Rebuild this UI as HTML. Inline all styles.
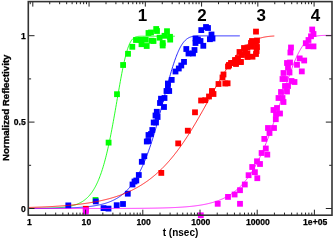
<!DOCTYPE html>
<html><head><meta charset="utf-8"><style>
html,body{margin:0;padding:0;background:#fff;}
body{width:335px;height:241px;overflow:hidden;}
svg{display:block;}
</style></head><body>
<svg width="335" height="241" viewBox="0 0 335 241">
<g fill="#00ff00"><rect x="92.60" y="197.10" width="5.80" height="5.80"/><rect x="105.70" y="139.70" width="5.80" height="5.80"/><rect x="114.10" y="91.30" width="5.80" height="5.80"/><rect x="120.20" y="62.10" width="5.80" height="5.80"/><rect x="125.10" y="50.90" width="5.80" height="5.80"/><rect x="129.40" y="43.90" width="5.80" height="5.80"/><rect x="133.10" y="37.10" width="5.80" height="5.80"/><rect x="137.90" y="36.90" width="5.80" height="5.80"/><rect x="138.60" y="41.30" width="5.80" height="5.80"/><rect x="143.80" y="43.10" width="5.80" height="5.80"/><rect x="142.80" y="36.80" width="5.80" height="5.80"/><rect x="145.60" y="30.10" width="5.80" height="5.80"/><rect x="148.10" y="29.60" width="5.80" height="5.80"/><rect x="148.60" y="37.80" width="5.80" height="5.80"/><rect x="150.60" y="38.10" width="5.80" height="5.80"/><rect x="153.30" y="26.10" width="5.80" height="5.80"/><rect x="154.10" y="28.10" width="5.80" height="5.80"/><rect x="156.70" y="34.80" width="5.80" height="5.80"/><rect x="159.80" y="40.10" width="5.80" height="5.80"/><rect x="159.80" y="42.60" width="5.80" height="5.80"/><rect x="161.60" y="32.90" width="5.80" height="5.80"/><rect x="164.10" y="28.30" width="5.80" height="5.80"/><rect x="167.10" y="33.90" width="5.80" height="5.80"/><rect x="167.30" y="36.70" width="5.80" height="5.80"/></g>
<path d="M28.30,208.45 L28.80,208.45 L29.30,208.45 L29.80,208.44 L30.30,208.44 L30.80,208.44 L31.30,208.43 L31.80,208.43 L32.30,208.43 L32.80,208.42 L33.30,208.42 L33.80,208.42 L34.30,208.41 L34.80,208.41 L35.30,208.41 L35.80,208.40 L36.30,208.40 L36.80,208.39 L37.30,208.39 L37.80,208.38 L38.30,208.38 L38.80,208.37 L39.30,208.36 L39.80,208.36 L40.30,208.35 L40.80,208.34 L41.30,208.34 L41.80,208.33 L42.30,208.32 L42.80,208.31 L43.30,208.30 L43.80,208.29 L44.30,208.28 L44.80,208.27 L45.30,208.26 L45.80,208.25 L46.30,208.24 L46.80,208.23 L47.30,208.22 L47.80,208.20 L48.30,208.19 L48.80,208.17 L49.30,208.16 L49.80,208.14 L50.30,208.13 L50.80,208.11 L51.30,208.09 L51.80,208.07 L52.30,208.05 L52.80,208.03 L53.30,208.01 L53.80,207.98 L54.30,207.96 L54.80,207.93 L55.30,207.91 L55.80,207.88 L56.30,207.85 L56.80,207.82 L57.30,207.79 L57.80,207.76 L58.30,207.72 L58.80,207.68 L59.30,207.65 L59.80,207.61 L60.30,207.56 L60.80,207.52 L61.30,207.47 L61.80,207.43 L62.30,207.38 L62.80,207.32 L63.30,207.27 L63.80,207.21 L64.30,207.15 L64.80,207.09 L65.30,207.02 L65.80,206.95 L66.30,206.88 L66.80,206.80 L67.30,206.73 L67.80,206.64 L68.30,206.56 L68.80,206.47 L69.30,206.37 L69.80,206.27 L70.30,206.17 L70.80,206.06 L71.30,205.95 L71.80,205.83 L72.30,205.70 L72.80,205.57 L73.30,205.44 L73.80,205.29 L74.30,205.14 L74.80,204.99 L75.30,204.83 L75.80,204.66 L76.30,204.48 L76.80,204.29 L77.30,204.10 L77.80,203.89 L78.30,203.68 L78.80,203.46 L79.30,203.22 L79.80,202.98 L80.30,202.72 L80.80,202.46 L81.30,202.18 L81.80,201.89 L82.30,201.59 L82.80,201.27 L83.30,200.94 L83.80,200.59 L84.30,200.23 L84.80,199.85 L85.30,199.45 L85.80,199.04 L86.30,198.61 L86.80,198.16 L87.30,197.69 L87.80,197.20 L88.30,196.69 L88.80,196.16 L89.30,195.60 L89.80,195.02 L90.30,194.41 L90.80,193.78 L91.30,193.12 L91.80,192.44 L92.30,191.72 L92.80,190.97 L93.30,190.20 L93.80,189.39 L94.30,188.54 L94.80,187.67 L95.30,186.75 L95.80,185.80 L96.30,184.82 L96.80,183.79 L97.30,182.72 L97.80,181.61 L98.30,180.46 L98.80,179.26 L99.30,178.02 L99.80,176.73 L100.30,175.39 L100.80,174.00 L101.30,172.57 L101.80,171.08 L102.30,169.54 L102.80,167.94 L103.30,166.30 L103.80,164.59 L104.30,162.83 L104.80,161.02 L105.30,159.14 L105.80,157.21 L106.30,155.22 L106.80,153.17 L107.30,151.07 L107.80,148.90 L108.30,146.68 L108.80,144.40 L109.30,142.06 L109.80,139.67 L110.30,137.23 L110.80,134.73 L111.30,132.18 L111.80,129.58 L112.30,126.93 L112.80,124.24 L113.30,121.51 L113.80,118.75 L114.30,115.95 L114.80,113.12 L115.30,110.26 L115.80,107.38 L116.30,104.49 L116.80,101.59 L117.30,98.68 L117.80,95.78 L118.30,92.89 L118.80,90.00 L119.30,87.15 L119.80,84.32 L120.30,81.52 L120.80,78.77 L121.30,76.07 L121.80,73.42 L122.30,70.84 L122.80,68.33 L123.30,65.90 L123.80,63.54 L124.30,61.28 L124.80,59.12 L125.30,57.05 L125.80,55.08 L126.30,53.22 L126.80,51.47 L127.30,49.83 L127.80,48.30 L128.30,46.89 L128.80,45.58 L129.30,44.39 L129.80,43.30 L130.30,42.31 L130.80,41.43 L131.30,40.64 L131.80,39.94 L132.30,39.33 L132.80,38.79 L133.30,38.33 L133.80,37.94 L134.30,37.60 L134.80,37.32 L135.30,37.09 L135.80,36.90 L136.30,36.74 L136.80,36.62 L137.30,36.52 L137.80,36.44 L138.30,36.38 L138.80,36.34 L139.30,36.30 L139.80,36.28 L140.30,36.26 L140.80,36.25 L141.30,36.24 L141.80,36.23 L142.30,36.23 L142.80,36.22 L143.30,36.22 L143.80,36.22 L144.30,36.22 L144.80,36.22 L145.30,36.22 L145.80,36.22 L146.30,36.22 L146.80,36.22 L147.30,36.22 L147.80,36.22 L148.30,36.22 L148.80,36.22 L149.30,36.22 L149.80,36.22 L150.30,36.22 L150.80,36.22 L151.30,36.22 L151.80,36.22 L152.30,36.22 L152.80,36.22 L153.30,36.22 L153.80,36.22 L154.30,36.22 L154.80,36.22 L155.30,36.22 L155.80,36.22 L156.30,36.22 L156.80,36.22 L157.30,36.22 L157.80,36.22 L158.30,36.22 L158.80,36.22 L159.30,36.22 L159.80,36.22 L160.30,36.22 L160.80,36.22 L161.30,36.22 L161.80,36.22 L162.30,36.22 L162.80,36.22 L163.30,36.22 L163.80,36.22 L164.30,36.22 L164.80,36.22 L165.30,36.22 L165.80,36.22 L166.30,36.22 L166.80,36.22 L167.30,36.22 L167.80,36.22 L168.30,36.22 L168.80,36.22 L169.30,36.22 L169.80,36.22 L170.30,36.22 L170.80,36.22 L171.30,36.22 L171.80,36.22 L172.30,36.22 L172.80,36.22 L173.30,36.22 L173.80,36.22 L174.30,36.22 L174.80,36.22" stroke="#00ff00" fill="none" stroke-width="1" stroke-opacity="0.85" stroke-linejoin="round"/>
<g fill="#0000ff"><rect x="65.40" y="202.50" width="5.80" height="5.80"/><rect x="92.90" y="198.50" width="5.80" height="5.80"/><rect x="100.60" y="205.20" width="5.80" height="5.80"/><rect x="105.60" y="205.70" width="5.80" height="5.80"/><rect x="113.80" y="202.30" width="5.80" height="5.80"/><rect x="120.10" y="201.10" width="5.80" height="5.80"/><rect x="124.90" y="190.80" width="5.80" height="5.80"/><rect x="129.60" y="181.60" width="5.80" height="5.80"/><rect x="131.60" y="178.60" width="5.80" height="5.80"/><rect x="133.40" y="177.60" width="5.80" height="5.80"/><rect x="135.90" y="172.10" width="5.80" height="5.80"/><rect x="138.90" y="158.90" width="5.80" height="5.80"/><rect x="141.40" y="153.30" width="5.80" height="5.80"/><rect x="143.90" y="138.60" width="5.80" height="5.80"/><rect x="145.40" y="138.10" width="5.80" height="5.80"/><rect x="145.60" y="132.10" width="5.80" height="5.80"/><rect x="148.10" y="131.10" width="5.80" height="5.80"/><rect x="149.40" y="127.10" width="5.80" height="5.80"/><rect x="150.80" y="119.60" width="5.80" height="5.80"/><rect x="153.10" y="119.60" width="5.80" height="5.80"/><rect x="153.90" y="108.90" width="5.80" height="5.80"/><rect x="152.60" y="112.60" width="5.80" height="5.80"/><rect x="154.70" y="114.10" width="5.80" height="5.80"/><rect x="157.10" y="100.10" width="5.80" height="5.80"/><rect x="161.10" y="104.10" width="5.80" height="5.80"/><rect x="158.10" y="95.80" width="5.80" height="5.80"/><rect x="161.60" y="95.10" width="5.80" height="5.80"/><rect x="163.60" y="88.10" width="5.80" height="5.80"/><rect x="166.30" y="88.10" width="5.80" height="5.80"/><rect x="165.00" y="80.60" width="5.80" height="5.80"/><rect x="165.00" y="83.10" width="5.80" height="5.80"/><rect x="168.80" y="77.00" width="5.80" height="5.80"/><rect x="172.60" y="68.60" width="5.80" height="5.80"/><rect x="175.90" y="65.60" width="5.80" height="5.80"/><rect x="178.40" y="62.60" width="5.80" height="5.80"/><rect x="181.10" y="59.00" width="5.80" height="5.80"/><rect x="183.40" y="46.10" width="5.80" height="5.80"/><rect x="185.60" y="50.60" width="5.80" height="5.80"/><rect x="190.10" y="50.60" width="5.80" height="5.80"/><rect x="191.60" y="47.10" width="5.80" height="5.80"/><rect x="192.60" y="40.10" width="5.80" height="5.80"/><rect x="195.00" y="36.60" width="5.80" height="5.80"/><rect x="192.60" y="35.60" width="5.80" height="5.80"/><rect x="197.60" y="38.10" width="5.80" height="5.80"/><rect x="200.40" y="42.90" width="5.80" height="5.80"/><rect x="198.40" y="27.20" width="5.80" height="5.80"/><rect x="203.10" y="24.10" width="5.80" height="5.80"/><rect x="205.10" y="25.10" width="5.80" height="5.80"/><rect x="208.60" y="31.60" width="5.80" height="5.80"/><rect x="209.60" y="35.60" width="5.80" height="5.80"/><rect x="207.00" y="36.30" width="5.80" height="5.80"/></g>
<path d="M28.30,208.45 L28.80,208.45 L29.30,208.45 L29.80,208.44 L30.30,208.44 L30.80,208.44 L31.30,208.44 L31.80,208.44 L32.30,208.43 L32.80,208.43 L33.30,208.43 L33.80,208.43 L34.30,208.43 L34.80,208.42 L35.30,208.42 L35.80,208.42 L36.30,208.42 L36.80,208.41 L37.30,208.41 L37.80,208.41 L38.30,208.41 L38.80,208.40 L39.30,208.40 L39.80,208.40 L40.30,208.39 L40.80,208.39 L41.30,208.39 L41.80,208.38 L42.30,208.38 L42.80,208.38 L43.30,208.37 L43.80,208.37 L44.30,208.36 L44.80,208.36 L45.30,208.36 L45.80,208.35 L46.30,208.35 L46.80,208.34 L47.30,208.34 L47.80,208.33 L48.30,208.33 L48.80,208.32 L49.30,208.32 L49.80,208.31 L50.30,208.31 L50.80,208.30 L51.30,208.29 L51.80,208.29 L52.30,208.28 L52.80,208.28 L53.30,208.27 L53.80,208.26 L54.30,208.25 L54.80,208.25 L55.30,208.24 L55.80,208.23 L56.30,208.22 L56.80,208.21 L57.30,208.21 L57.80,208.20 L58.30,208.19 L58.80,208.18 L59.30,208.17 L59.80,208.16 L60.30,208.15 L60.80,208.14 L61.30,208.13 L61.80,208.11 L62.30,208.10 L62.80,208.09 L63.30,208.08 L63.80,208.07 L64.30,208.05 L64.80,208.04 L65.30,208.02 L65.80,208.01 L66.30,208.00 L66.80,207.98 L67.30,207.96 L67.80,207.95 L68.30,207.93 L68.80,207.91 L69.30,207.90 L69.80,207.88 L70.30,207.86 L70.80,207.84 L71.30,207.82 L71.80,207.80 L72.30,207.78 L72.80,207.76 L73.30,207.73 L73.80,207.71 L74.30,207.69 L74.80,207.66 L75.30,207.64 L75.80,207.61 L76.30,207.58 L76.80,207.55 L77.30,207.53 L77.80,207.50 L78.30,207.47 L78.80,207.43 L79.30,207.40 L79.80,207.37 L80.30,207.33 L80.80,207.30 L81.30,207.26 L81.80,207.23 L82.30,207.19 L82.80,207.15 L83.30,207.11 L83.80,207.06 L84.30,207.02 L84.80,206.98 L85.30,206.93 L85.80,206.88 L86.30,206.83 L86.80,206.78 L87.30,206.73 L87.80,206.68 L88.30,206.62 L88.80,206.56 L89.30,206.51 L89.80,206.45 L90.30,206.38 L90.80,206.32 L91.30,206.25 L91.80,206.19 L92.30,206.12 L92.80,206.04 L93.30,205.97 L93.80,205.89 L94.30,205.82 L94.80,205.73 L95.30,205.65 L95.80,205.56 L96.30,205.48 L96.80,205.39 L97.30,205.29 L97.80,205.19 L98.30,205.09 L98.80,204.99 L99.30,204.89 L99.80,204.78 L100.30,204.67 L100.80,204.55 L101.30,204.43 L101.80,204.31 L102.30,204.18 L102.80,204.05 L103.30,203.92 L103.80,203.78 L104.30,203.64 L104.80,203.50 L105.30,203.35 L105.80,203.19 L106.30,203.03 L106.80,202.87 L107.30,202.70 L107.80,202.53 L108.30,202.35 L108.80,202.17 L109.30,201.98 L109.80,201.78 L110.30,201.58 L110.80,201.38 L111.30,201.16 L111.80,200.95 L112.30,200.72 L112.80,200.49 L113.30,200.25 L113.80,200.01 L114.30,199.76 L114.80,199.50 L115.30,199.23 L115.80,198.96 L116.30,198.67 L116.80,198.38 L117.30,198.09 L117.80,197.78 L118.30,197.46 L118.80,197.14 L119.30,196.81 L119.80,196.46 L120.30,196.11 L120.80,195.75 L121.30,195.37 L121.80,194.99 L122.30,194.60 L122.80,194.19 L123.30,193.78 L123.80,193.35 L124.30,192.91 L124.80,192.46 L125.30,191.99 L125.80,191.52 L126.30,191.03 L126.80,190.52 L127.30,190.01 L127.80,189.48 L128.30,188.93 L128.80,188.37 L129.30,187.80 L129.80,187.21 L130.30,186.61 L130.80,185.98 L131.30,185.35 L131.80,184.69 L132.30,184.02 L132.80,183.34 L133.30,182.63 L133.80,181.91 L134.30,181.17 L134.80,180.41 L135.30,179.63 L135.80,178.83 L136.30,178.01 L136.80,177.17 L137.30,176.32 L137.80,175.44 L138.30,174.54 L138.80,173.62 L139.30,172.67 L139.80,171.71 L140.30,170.72 L140.80,169.71 L141.30,168.68 L141.80,167.62 L142.30,166.55 L142.80,165.44 L143.30,164.32 L143.80,163.17 L144.30,161.99 L144.80,160.79 L145.30,159.57 L145.80,158.32 L146.30,157.05 L146.80,155.75 L147.30,154.43 L147.80,153.08 L148.30,151.71 L148.80,150.31 L149.30,148.89 L149.80,147.44 L150.30,145.97 L150.80,144.48 L151.30,142.95 L151.80,141.41 L152.30,139.84 L152.80,138.25 L153.30,136.64 L153.80,135.00 L154.30,133.34 L154.80,131.66 L155.30,129.96 L155.80,128.24 L156.30,126.50 L156.80,124.74 L157.30,122.96 L157.80,121.17 L158.30,119.36 L158.80,117.53 L159.30,115.69 L159.80,113.84 L160.30,111.98 L160.80,110.11 L161.30,108.22 L161.80,106.33 L162.30,104.44 L162.80,102.54 L163.30,100.64 L163.80,98.73 L164.30,96.83 L164.80,94.93 L165.30,93.04 L165.80,91.15 L166.30,89.26 L166.80,87.39 L167.30,85.53 L167.80,83.68 L168.30,81.85 L168.80,80.04 L169.30,78.24 L169.80,76.47 L170.30,74.72 L170.80,73.00 L171.30,71.30 L171.80,69.64 L172.30,68.00 L172.80,66.40 L173.30,64.83 L173.80,63.30 L174.30,61.81 L174.80,60.35 L175.30,58.94 L175.80,57.57 L176.30,56.25 L176.80,54.96 L177.30,53.73 L177.80,52.53 L178.30,51.39 L178.80,50.29 L179.30,49.25 L179.80,48.24 L180.30,47.29 L180.80,46.39 L181.30,45.53 L181.80,44.72 L182.30,43.95 L182.80,43.23 L183.30,42.56 L183.80,41.93 L184.30,41.34 L184.80,40.80 L185.30,40.29 L185.80,39.83 L186.30,39.40 L186.80,39.00 L187.30,38.64 L187.80,38.32 L188.30,38.02 L188.80,37.75 L189.30,37.51 L189.80,37.29 L190.30,37.10 L190.80,36.93 L191.30,36.78 L191.80,36.64 L192.30,36.53 L192.80,36.42 L193.30,36.34 L193.80,36.26 L194.30,36.19 L194.80,36.14 L195.30,36.09 L195.80,36.05 L196.30,36.02 L196.80,35.99 L197.30,35.97 L197.80,35.95 L198.30,35.93 L198.80,35.92 L199.30,35.91 L199.80,35.90 L200.30,35.89 L200.80,35.89 L201.30,35.88 L201.80,35.88 L202.30,35.88 L202.80,35.88 L203.30,35.88 L203.80,35.88 L204.30,35.87 L204.80,35.87 L205.30,35.87 L205.80,35.87 L206.30,35.87 L206.80,35.87 L207.30,35.87 L207.80,35.87 L208.30,35.87 L208.80,35.87 L209.30,35.87 L209.80,35.87 L210.30,35.87 L210.80,35.87 L211.30,35.87 L211.80,35.87 L212.30,35.87 L212.80,35.87 L213.30,35.87 L213.80,35.87 L214.30,35.87 L214.80,35.87 L215.30,35.87 L215.80,35.87 L216.30,35.87 L216.80,35.87 L217.30,35.87 L217.80,35.87 L218.30,35.87 L218.80,35.87 L219.30,35.87 L219.80,35.87 L220.30,35.87 L220.80,35.87 L221.30,35.87 L221.80,35.87 L222.30,35.87 L222.80,35.87 L223.30,35.87 L223.80,35.87 L224.30,35.87 L224.80,35.87 L225.30,35.87 L225.80,35.87 L226.30,35.87 L226.80,35.87 L227.30,35.87 L227.80,35.87 L228.30,35.87 L228.80,35.87 L229.30,35.87 L229.80,35.87 L230.30,35.87 L230.80,35.87 L231.30,35.87 L231.80,35.87 L232.30,35.87 L232.80,35.87 L233.30,35.87 L233.80,35.87 L234.30,35.87 L234.80,35.87 L235.30,35.87 L235.80,35.87 L236.30,35.87 L236.80,35.87 L237.30,35.87 L237.80,35.87 L238.30,35.87 L238.80,35.87 L239.30,35.87 L239.80,35.87" stroke="#0000ff" fill="none" stroke-width="1" stroke-opacity="0.85" stroke-linejoin="round"/>
<g fill="#ff0000"><rect x="82.90" y="205.90" width="5.80" height="5.80"/><rect x="158.40" y="170.00" width="5.80" height="5.80"/><rect x="175.30" y="140.50" width="5.80" height="5.80"/><rect x="184.90" y="127.80" width="5.80" height="5.80"/><rect x="192.10" y="109.40" width="5.80" height="5.80"/><rect x="198.20" y="97.60" width="5.80" height="5.80"/><rect x="202.30" y="97.30" width="5.80" height="5.80"/><rect x="206.10" y="93.60" width="5.80" height="5.80"/><rect x="209.10" y="89.60" width="5.80" height="5.80"/><rect x="210.60" y="91.10" width="5.80" height="5.80"/><rect x="209.10" y="88.10" width="5.80" height="5.80"/><rect x="215.60" y="81.10" width="5.80" height="5.80"/><rect x="222.40" y="80.60" width="5.80" height="5.80"/><rect x="224.70" y="80.40" width="5.80" height="5.80"/><rect x="219.60" y="74.60" width="5.80" height="5.80"/><rect x="220.60" y="71.60" width="5.80" height="5.80"/><rect x="226.10" y="62.10" width="5.80" height="5.80"/><rect x="228.10" y="60.10" width="5.80" height="5.80"/><rect x="233.10" y="59.60" width="5.80" height="5.80"/><rect x="238.10" y="59.10" width="5.80" height="5.80"/><rect x="226.10" y="62.60" width="5.80" height="5.80"/><rect x="229.10" y="60.10" width="5.80" height="5.80"/><rect x="232.10" y="57.10" width="5.80" height="5.80"/><rect x="235.10" y="55.10" width="5.80" height="5.80"/><rect x="233.10" y="61.10" width="5.80" height="5.80"/><rect x="237.10" y="59.10" width="5.80" height="5.80"/><rect x="239.10" y="52.10" width="5.80" height="5.80"/><rect x="242.10" y="49.10" width="5.80" height="5.80"/><rect x="244.50" y="50.60" width="5.80" height="5.80"/><rect x="241.10" y="45.10" width="5.80" height="5.80"/><rect x="244.50" y="44.60" width="5.80" height="5.80"/><rect x="248.10" y="40.10" width="5.80" height="5.80"/><rect x="249.10" y="43.80" width="5.80" height="5.80"/><rect x="253.10" y="39.10" width="5.80" height="5.80"/><rect x="254.10" y="44.10" width="5.80" height="5.80"/><rect x="253.70" y="48.10" width="5.80" height="5.80"/><rect x="249.60" y="53.80" width="5.80" height="5.80"/><rect x="244.60" y="54.10" width="5.80" height="5.80"/><rect x="253.10" y="28.70" width="5.80" height="5.80"/><rect x="249.10" y="38.10" width="5.80" height="5.80"/><rect x="254.10" y="37.60" width="5.80" height="5.80"/><rect x="253.10" y="51.10" width="5.80" height="5.80"/><rect x="236.60" y="49.10" width="5.80" height="5.80"/><rect x="225.10" y="63.60" width="5.80" height="5.80"/></g>
<path d="M28.30,207.49 L28.80,207.47 L29.30,207.46 L29.80,207.44 L30.30,207.43 L30.80,207.41 L31.30,207.40 L31.80,207.38 L32.30,207.37 L32.80,207.35 L33.30,207.33 L33.80,207.32 L34.30,207.30 L34.80,207.28 L35.30,207.26 L35.80,207.25 L36.30,207.23 L36.80,207.21 L37.30,207.19 L37.80,207.17 L38.30,207.16 L38.80,207.14 L39.30,207.12 L39.80,207.10 L40.30,207.08 L40.80,207.06 L41.30,207.04 L41.80,207.02 L42.30,206.99 L42.80,206.97 L43.30,206.95 L43.80,206.93 L44.30,206.91 L44.80,206.88 L45.30,206.86 L45.80,206.84 L46.30,206.81 L46.80,206.79 L47.30,206.77 L47.80,206.74 L48.30,206.72 L48.80,206.69 L49.30,206.66 L49.80,206.64 L50.30,206.61 L50.80,206.59 L51.30,206.56 L51.80,206.53 L52.30,206.50 L52.80,206.47 L53.30,206.44 L53.80,206.42 L54.30,206.39 L54.80,206.36 L55.30,206.33 L55.80,206.29 L56.30,206.26 L56.80,206.23 L57.30,206.20 L57.80,206.17 L58.30,206.13 L58.80,206.10 L59.30,206.07 L59.80,206.03 L60.30,206.00 L60.80,205.96 L61.30,205.92 L61.80,205.89 L62.30,205.85 L62.80,205.81 L63.30,205.77 L63.80,205.74 L64.30,205.70 L64.80,205.66 L65.30,205.62 L65.80,205.58 L66.30,205.53 L66.80,205.49 L67.30,205.45 L67.80,205.41 L68.30,205.36 L68.80,205.32 L69.30,205.27 L69.80,205.23 L70.30,205.18 L70.80,205.13 L71.30,205.09 L71.80,205.04 L72.30,204.99 L72.80,204.94 L73.30,204.89 L73.80,204.84 L74.30,204.79 L74.80,204.73 L75.30,204.68 L75.80,204.63 L76.30,204.57 L76.80,204.52 L77.30,204.46 L77.80,204.40 L78.30,204.34 L78.80,204.28 L79.30,204.23 L79.80,204.17 L80.30,204.10 L80.80,204.04 L81.30,203.98 L81.80,203.91 L82.30,203.85 L82.80,203.78 L83.30,203.72 L83.80,203.65 L84.30,203.58 L84.80,203.51 L85.30,203.44 L85.80,203.37 L86.30,203.30 L86.80,203.23 L87.30,203.15 L87.80,203.08 L88.30,203.00 L88.80,202.92 L89.30,202.84 L89.80,202.76 L90.30,202.68 L90.80,202.60 L91.30,202.52 L91.80,202.43 L92.30,202.35 L92.80,202.26 L93.30,202.18 L93.80,202.09 L94.30,202.00 L94.80,201.91 L95.30,201.81 L95.80,201.72 L96.30,201.62 L96.80,201.53 L97.30,201.43 L97.80,201.33 L98.30,201.23 L98.80,201.13 L99.30,201.03 L99.80,200.92 L100.30,200.81 L100.80,200.71 L101.30,200.60 L101.80,200.49 L102.30,200.38 L102.80,200.26 L103.30,200.15 L103.80,200.03 L104.30,199.91 L104.80,199.79 L105.30,199.67 L105.80,199.55 L106.30,199.42 L106.80,199.30 L107.30,199.17 L107.80,199.04 L108.30,198.91 L108.80,198.77 L109.30,198.64 L109.80,198.50 L110.30,198.36 L110.80,198.22 L111.30,198.08 L111.80,197.94 L112.30,197.79 L112.80,197.64 L113.30,197.49 L113.80,197.34 L114.30,197.18 L114.80,197.03 L115.30,196.87 L115.80,196.71 L116.30,196.55 L116.80,196.38 L117.30,196.21 L117.80,196.04 L118.30,195.87 L118.80,195.70 L119.30,195.52 L119.80,195.34 L120.30,195.16 L120.80,194.98 L121.30,194.79 L121.80,194.61 L122.30,194.42 L122.80,194.22 L123.30,194.03 L123.80,193.83 L124.30,193.63 L124.80,193.43 L125.30,193.22 L125.80,193.01 L126.30,192.80 L126.80,192.59 L127.30,192.37 L127.80,192.15 L128.30,191.93 L128.80,191.70 L129.30,191.47 L129.80,191.24 L130.30,191.01 L130.80,190.77 L131.30,190.53 L131.80,190.29 L132.30,190.04 L132.80,189.79 L133.30,189.54 L133.80,189.28 L134.30,189.03 L134.80,188.76 L135.30,188.50 L135.80,188.23 L136.30,187.96 L136.80,187.68 L137.30,187.40 L137.80,187.12 L138.30,186.83 L138.80,186.54 L139.30,186.25 L139.80,185.96 L140.30,185.65 L140.80,185.35 L141.30,185.04 L141.80,184.73 L142.30,184.42 L142.80,184.10 L143.30,183.77 L143.80,183.45 L144.30,183.12 L144.80,182.78 L145.30,182.44 L145.80,182.10 L146.30,181.75 L146.80,181.40 L147.30,181.05 L147.80,180.69 L148.30,180.32 L148.80,179.96 L149.30,179.58 L149.80,179.21 L150.30,178.83 L150.80,178.44 L151.30,178.05 L151.80,177.66 L152.30,177.26 L152.80,176.85 L153.30,176.45 L153.80,176.03 L154.30,175.62 L154.80,175.19 L155.30,174.77 L155.80,174.34 L156.30,173.90 L156.80,173.46 L157.30,173.01 L157.80,172.56 L158.30,172.10 L158.80,171.64 L159.30,171.18 L159.80,170.71 L160.30,170.23 L160.80,169.75 L161.30,169.26 L161.80,168.77 L162.30,168.28 L162.80,167.77 L163.30,167.27 L163.80,166.75 L164.30,166.24 L164.80,165.71 L165.30,165.19 L165.80,164.65 L166.30,164.11 L166.80,163.57 L167.30,163.02 L167.80,162.46 L168.30,161.90 L168.80,161.34 L169.30,160.76 L169.80,160.19 L170.30,159.60 L170.80,159.02 L171.30,158.42 L171.80,157.82 L172.30,157.22 L172.80,156.61 L173.30,155.99 L173.80,155.37 L174.30,154.74 L174.80,154.11 L175.30,153.47 L175.80,152.82 L176.30,152.17 L176.80,151.52 L177.30,150.86 L177.80,150.19 L178.30,149.52 L178.80,148.84 L179.30,148.16 L179.80,147.47 L180.30,146.77 L180.80,146.07 L181.30,145.37 L181.80,144.65 L182.30,143.94 L182.80,143.21 L183.30,142.49 L183.80,141.75 L184.30,141.02 L184.80,140.27 L185.30,139.52 L185.80,138.77 L186.30,138.01 L186.80,137.24 L187.30,136.48 L187.80,135.70 L188.30,134.92 L188.80,134.14 L189.30,133.35 L189.80,132.55 L190.30,131.75 L190.80,130.95 L191.30,130.14 L191.80,129.33 L192.30,128.51 L192.80,127.69 L193.30,126.86 L193.80,126.03 L194.30,125.20 L194.80,124.36 L195.30,123.51 L195.80,122.67 L196.30,121.82 L196.80,120.96 L197.30,120.11 L197.80,119.25 L198.30,118.38 L198.80,117.51 L199.30,116.64 L199.80,115.77 L200.30,114.89 L200.80,114.01 L201.30,113.13 L201.80,112.25 L202.30,111.36 L202.80,110.47 L203.30,109.58 L203.80,108.69 L204.30,107.79 L204.80,106.90 L205.30,106.00 L205.80,105.10 L206.30,104.20 L206.80,103.30 L207.30,102.40 L207.80,101.49 L208.30,100.59 L208.80,99.69 L209.30,98.78 L209.80,97.88 L210.30,96.98 L210.80,96.07 L211.30,95.17 L211.80,94.27 L212.30,93.37 L212.80,92.47 L213.30,91.58 L213.80,90.68 L214.30,89.79 L214.80,88.89 L215.30,88.01 L215.80,87.12 L216.30,86.23 L216.80,85.35 L217.30,84.47 L217.80,83.60 L218.30,82.73 L218.80,81.86 L219.30,81.00 L219.80,80.14 L220.30,79.28 L220.80,78.43 L221.30,77.58 L221.80,76.74 L222.30,75.91 L222.80,75.08 L223.30,74.25 L223.80,73.43 L224.30,72.62 L224.80,71.81 L225.30,71.01 L225.80,70.22 L226.30,69.43 L226.80,68.66 L227.30,67.88 L227.80,67.12 L228.30,66.36 L228.80,65.61 L229.30,64.87 L229.80,64.14 L230.30,63.41 L230.80,62.70 L231.30,61.99 L231.80,61.29 L232.30,60.60 L232.80,59.92 L233.30,59.25 L233.80,58.58 L234.30,57.93 L234.80,57.29 L235.30,56.65 L235.80,56.03 L236.30,55.42 L236.80,54.82 L237.30,54.22 L237.80,53.64 L238.30,53.07 L238.80,52.51 L239.30,51.95 L239.80,51.41 L240.30,50.88 L240.80,50.36 L241.30,49.86 L241.80,49.36 L242.30,48.87 L242.80,48.39 L243.30,47.93 L243.80,47.47 L244.30,47.03 L244.80,46.60 L245.30,46.17 L245.80,45.76 L246.30,45.36 L246.80,44.97 L247.30,44.59 L247.80,44.22 L248.30,43.86 L248.80,43.51 L249.30,43.17 L249.80,42.85 L250.30,42.53 L250.80,42.22 L251.30,41.92 L251.80,41.63 L252.30,41.35 L252.80,41.08 L253.30,40.82 L253.80,40.57 L254.30,40.33 L254.80,40.09 L255.30,39.87 L255.80,39.65 L256.30,39.44 L256.80,39.24 L257.30,39.05 L257.80,38.87 L258.30,38.69 L258.80,38.52 L259.30,38.36 L259.80,38.21 L260.30,38.06 L260.80,37.92 L261.30,37.79 L261.80,37.66 L262.30,37.54 L262.80,37.42 L263.30,37.31 L263.80,37.21 L264.30,37.11 L264.80,37.01 L265.30,36.93 L265.80,36.84 L266.30,36.76 L266.80,36.69 L267.30,36.62 L267.80,36.55 L268.30,36.49 L268.80,36.43 L269.30,36.38 L269.80,36.32 L270.30,36.28 L270.80,36.23 L271.30,36.19 L271.80,36.15 L272.30,36.11 L272.80,36.08 L273.30,36.05 L273.80,36.02 L274.30,35.99" stroke="#ff0000" fill="none" stroke-width="1" stroke-opacity="0.85" stroke-linejoin="round"/>
<g fill="#ff00ff"><rect x="82.90" y="207.30" width="5.80" height="5.80"/><rect x="82.90" y="208.80" width="5.80" height="5.80"/><rect x="197.90" y="212.40" width="5.80" height="5.80"/><rect x="214.80" y="200.90" width="5.80" height="5.80"/><rect x="237.10" y="200.90" width="5.80" height="5.80"/><rect x="225.10" y="194.00" width="5.80" height="5.80"/><rect x="231.70" y="191.60" width="5.80" height="5.80"/><rect x="237.10" y="187.30" width="5.80" height="5.80"/><rect x="241.90" y="181.60" width="5.80" height="5.80"/><rect x="245.70" y="172.30" width="5.80" height="5.80"/><rect x="249.30" y="164.10" width="5.80" height="5.80"/><rect x="252.00" y="169.30" width="5.80" height="5.80"/><rect x="254.40" y="175.30" width="5.80" height="5.80"/><rect x="254.10" y="158.40" width="5.80" height="5.80"/><rect x="257.10" y="161.10" width="5.80" height="5.80"/><rect x="258.70" y="150.10" width="5.80" height="5.80"/><rect x="262.90" y="145.60" width="5.80" height="5.80"/><rect x="264.40" y="151.70" width="5.80" height="5.80"/><rect x="261.40" y="136.00" width="5.80" height="5.80"/><rect x="266.60" y="130.10" width="5.80" height="5.80"/><rect x="265.10" y="125.10" width="5.80" height="5.80"/><rect x="271.10" y="125.10" width="5.80" height="5.80"/><rect x="272.90" y="116.30" width="5.80" height="5.80"/><rect x="270.60" y="107.10" width="5.80" height="5.80"/><rect x="274.10" y="105.10" width="5.80" height="5.80"/><rect x="273.10" y="111.10" width="5.80" height="5.80"/><rect x="277.10" y="110.60" width="5.80" height="5.80"/><rect x="275.60" y="95.10" width="5.80" height="5.80"/><rect x="279.60" y="95.10" width="5.80" height="5.80"/><rect x="280.60" y="99.10" width="5.80" height="5.80"/><rect x="278.10" y="89.10" width="5.80" height="5.80"/><rect x="284.10" y="88.60" width="5.80" height="5.80"/><rect x="282.10" y="83.10" width="5.80" height="5.80"/><rect x="285.10" y="83.10" width="5.80" height="5.80"/><rect x="279.60" y="76.10" width="5.80" height="5.80"/><rect x="282.10" y="76.10" width="5.80" height="5.80"/><rect x="288.60" y="78.10" width="5.80" height="5.80"/><rect x="291.60" y="79.10" width="5.80" height="5.80"/><rect x="280.60" y="70.10" width="5.80" height="5.80"/><rect x="286.60" y="69.60" width="5.80" height="5.80"/><rect x="284.10" y="60.10" width="5.80" height="5.80"/><rect x="287.10" y="59.60" width="5.80" height="5.80"/><rect x="285.10" y="64.60" width="5.80" height="5.80"/><rect x="287.50" y="49.60" width="5.80" height="5.80"/><rect x="288.10" y="44.60" width="5.80" height="5.80"/><rect x="296.80" y="55.50" width="5.80" height="5.80"/><rect x="301.30" y="57.60" width="5.80" height="5.80"/><rect x="294.10" y="61.90" width="5.80" height="5.80"/><rect x="298.90" y="68.50" width="5.80" height="5.80"/><rect x="302.90" y="40.30" width="5.80" height="5.80"/><rect x="305.40" y="43.30" width="5.80" height="5.80"/><rect x="310.60" y="43.50" width="5.80" height="5.80"/><rect x="308.10" y="33.40" width="5.80" height="5.80"/><rect x="310.60" y="31.10" width="5.80" height="5.80"/><rect x="305.60" y="37.10" width="5.80" height="5.80"/><rect x="309.30" y="26.60" width="5.80" height="5.80"/></g>
<path d="M28.30,208.50 L28.80,208.50 L29.30,208.50 L29.80,208.50 L30.30,208.50 L30.80,208.50 L31.30,208.50 L31.80,208.50 L32.30,208.50 L32.80,208.50 L33.30,208.50 L33.80,208.50 L34.30,208.50 L34.80,208.50 L35.30,208.50 L35.80,208.50 L36.30,208.50 L36.80,208.50 L37.30,208.50 L37.80,208.50 L38.30,208.50 L38.80,208.50 L39.30,208.50 L39.80,208.50 L40.30,208.50 L40.80,208.50 L41.30,208.50 L41.80,208.50 L42.30,208.50 L42.80,208.50 L43.30,208.50 L43.80,208.50 L44.30,208.50 L44.80,208.50 L45.30,208.50 L45.80,208.50 L46.30,208.50 L46.80,208.50 L47.30,208.50 L47.80,208.50 L48.30,208.50 L48.80,208.50 L49.30,208.50 L49.80,208.50 L50.30,208.50 L50.80,208.50 L51.30,208.50 L51.80,208.50 L52.30,208.50 L52.80,208.50 L53.30,208.50 L53.80,208.50 L54.30,208.50 L54.80,208.50 L55.30,208.50 L55.80,208.50 L56.30,208.50 L56.80,208.50 L57.30,208.50 L57.80,208.50 L58.30,208.50 L58.80,208.50 L59.30,208.50 L59.80,208.50 L60.30,208.50 L60.80,208.50 L61.30,208.50 L61.80,208.50 L62.30,208.50 L62.80,208.50 L63.30,208.50 L63.80,208.50 L64.30,208.50 L64.80,208.50 L65.30,208.50 L65.80,208.50 L66.30,208.49 L66.80,208.49 L67.30,208.49 L67.80,208.49 L68.30,208.49 L68.80,208.49 L69.30,208.49 L69.80,208.49 L70.30,208.49 L70.80,208.49 L71.30,208.49 L71.80,208.49 L72.30,208.49 L72.80,208.49 L73.30,208.49 L73.80,208.49 L74.30,208.49 L74.80,208.49 L75.30,208.49 L75.80,208.49 L76.30,208.49 L76.80,208.49 L77.30,208.49 L77.80,208.49 L78.30,208.49 L78.80,208.49 L79.30,208.49 L79.80,208.49 L80.30,208.49 L80.80,208.49 L81.30,208.49 L81.80,208.49 L82.30,208.49 L82.80,208.49 L83.30,208.49 L83.80,208.49 L84.30,208.49 L84.80,208.49 L85.30,208.49 L85.80,208.49 L86.30,208.49 L86.80,208.49 L87.30,208.49 L87.80,208.49 L88.30,208.49 L88.80,208.48 L89.30,208.48 L89.80,208.48 L90.30,208.48 L90.80,208.48 L91.30,208.48 L91.80,208.48 L92.30,208.48 L92.80,208.48 L93.30,208.48 L93.80,208.48 L94.30,208.48 L94.80,208.48 L95.30,208.48 L95.80,208.48 L96.30,208.48 L96.80,208.48 L97.30,208.48 L97.80,208.48 L98.30,208.48 L98.80,208.48 L99.30,208.47 L99.80,208.47 L100.30,208.47 L100.80,208.47 L101.30,208.47 L101.80,208.47 L102.30,208.47 L102.80,208.47 L103.30,208.47 L103.80,208.47 L104.30,208.47 L104.80,208.47 L105.30,208.47 L105.80,208.47 L106.30,208.46 L106.80,208.46 L107.30,208.46 L107.80,208.46 L108.30,208.46 L108.80,208.46 L109.30,208.46 L109.80,208.46 L110.30,208.46 L110.80,208.46 L111.30,208.45 L111.80,208.45 L112.30,208.45 L112.80,208.45 L113.30,208.45 L113.80,208.45 L114.30,208.45 L114.80,208.45 L115.30,208.45 L115.80,208.44 L116.30,208.44 L116.80,208.44 L117.30,208.44 L117.80,208.44 L118.30,208.44 L118.80,208.44 L119.30,208.43 L119.80,208.43 L120.30,208.43 L120.80,208.43 L121.30,208.43 L121.80,208.43 L122.30,208.42 L122.80,208.42 L123.30,208.42 L123.80,208.42 L124.30,208.42 L124.80,208.41 L125.30,208.41 L125.80,208.41 L126.30,208.41 L126.80,208.40 L127.30,208.40 L127.80,208.40 L128.30,208.40 L128.80,208.39 L129.30,208.39 L129.80,208.39 L130.30,208.39 L130.80,208.38 L131.30,208.38 L131.80,208.38 L132.30,208.38 L132.80,208.37 L133.30,208.37 L133.80,208.37 L134.30,208.36 L134.80,208.36 L135.30,208.36 L135.80,208.35 L136.30,208.35 L136.80,208.34 L137.30,208.34 L137.80,208.34 L138.30,208.33 L138.80,208.33 L139.30,208.32 L139.80,208.32 L140.30,208.32 L140.80,208.31 L141.30,208.31 L141.80,208.30 L142.30,208.30 L142.80,208.29 L143.30,208.29 L143.80,208.28 L144.30,208.28 L144.80,208.27 L145.30,208.27 L145.80,208.26 L146.30,208.25 L146.80,208.25 L147.30,208.24 L147.80,208.24 L148.30,208.23 L148.80,208.22 L149.30,208.22 L149.80,208.21 L150.30,208.20 L150.80,208.19 L151.30,208.19 L151.80,208.18 L152.30,208.17 L152.80,208.16 L153.30,208.15 L153.80,208.15 L154.30,208.14 L154.80,208.13 L155.30,208.12 L155.80,208.11 L156.30,208.10 L156.80,208.09 L157.30,208.08 L157.80,208.07 L158.30,208.06 L158.80,208.05 L159.30,208.04 L159.80,208.03 L160.30,208.02 L160.80,208.00 L161.30,207.99 L161.80,207.98 L162.30,207.97 L162.80,207.95 L163.30,207.94 L163.80,207.93 L164.30,207.91 L164.80,207.90 L165.30,207.88 L165.80,207.87 L166.30,207.85 L166.80,207.84 L167.30,207.82 L167.80,207.80 L168.30,207.79 L168.80,207.77 L169.30,207.75 L169.80,207.73 L170.30,207.71 L170.80,207.69 L171.30,207.67 L171.80,207.65 L172.30,207.63 L172.80,207.61 L173.30,207.59 L173.80,207.57 L174.30,207.55 L174.80,207.52 L175.30,207.50 L175.80,207.47 L176.30,207.45 L176.80,207.42 L177.30,207.40 L177.80,207.37 L178.30,207.34 L178.80,207.31 L179.30,207.28 L179.80,207.26 L180.30,207.22 L180.80,207.19 L181.30,207.16 L181.80,207.13 L182.30,207.10 L182.80,207.06 L183.30,207.03 L183.80,206.99 L184.30,206.95 L184.80,206.92 L185.30,206.88 L185.80,206.84 L186.30,206.80 L186.80,206.75 L187.30,206.71 L187.80,206.67 L188.30,206.62 L188.80,206.58 L189.30,206.53 L189.80,206.48 L190.30,206.43 L190.80,206.38 L191.30,206.33 L191.80,206.28 L192.30,206.22 L192.80,206.17 L193.30,206.11 L193.80,206.05 L194.30,205.99 L194.80,205.93 L195.30,205.87 L195.80,205.81 L196.30,205.74 L196.80,205.67 L197.30,205.60 L197.80,205.53 L198.30,205.46 L198.80,205.39 L199.30,205.31 L199.80,205.24 L200.30,205.16 L200.80,205.07 L201.30,204.99 L201.80,204.91 L202.30,204.82 L202.80,204.73 L203.30,204.64 L203.80,204.54 L204.30,204.45 L204.80,204.35 L205.30,204.25 L205.80,204.15 L206.30,204.04 L206.80,203.93 L207.30,203.82 L207.80,203.71 L208.30,203.59 L208.80,203.47 L209.30,203.35 L209.80,203.23 L210.30,203.10 L210.80,202.97 L211.30,202.84 L211.80,202.70 L212.30,202.56 L212.80,202.42 L213.30,202.27 L213.80,202.12 L214.30,201.97 L214.80,201.81 L215.30,201.65 L215.80,201.48 L216.30,201.32 L216.80,201.14 L217.30,200.97 L217.80,200.79 L218.30,200.60 L218.80,200.41 L219.30,200.22 L219.80,200.02 L220.30,199.82 L220.80,199.61 L221.30,199.40 L221.80,199.18 L222.30,198.96 L222.80,198.73 L223.30,198.50 L223.80,198.26 L224.30,198.01 L224.80,197.76 L225.30,197.51 L225.80,197.25 L226.30,196.98 L226.80,196.71 L227.30,196.43 L227.80,196.14 L228.30,195.85 L228.80,195.55 L229.30,195.25 L229.80,194.94 L230.30,194.62 L230.80,194.29 L231.30,193.96 L231.80,193.62 L232.30,193.27 L232.80,192.91 L233.30,192.55 L233.80,192.17 L234.30,191.79 L234.80,191.40 L235.30,191.01 L235.80,190.60 L236.30,190.18 L236.80,189.76 L237.30,189.33 L237.80,188.88 L238.30,188.43 L238.80,187.97 L239.30,187.50 L239.80,187.01 L240.30,186.52 L240.80,186.02 L241.30,185.50 L241.80,184.98 L242.30,184.44 L242.80,183.90 L243.30,183.34 L243.80,182.77 L244.30,182.19 L244.80,181.60 L245.30,180.99 L245.80,180.37 L246.30,179.74 L246.80,179.10 L247.30,178.45 L247.80,177.78 L248.30,177.10 L248.80,176.40 L249.30,175.69 L249.80,174.97 L250.30,174.24 L250.80,173.49 L251.30,172.72 L251.80,171.94 L252.30,171.15 L252.80,170.34 L253.30,169.52 L253.80,168.68 L254.30,167.83 L254.80,166.96 L255.30,166.08 L255.80,165.18 L256.30,164.27 L256.80,163.34 L257.30,162.39 L257.80,161.43 L258.30,160.45 L258.80,159.46 L259.30,158.45 L259.80,157.42 L260.30,156.38 L260.80,155.32 L261.30,154.24 L261.80,153.15 L262.30,152.04 L262.80,150.91 L263.30,149.77 L263.80,148.62 L264.30,147.44 L264.80,146.25 L265.30,145.04 L265.80,143.82 L266.30,142.58 L266.80,141.33 L267.30,140.06 L267.80,138.78 L268.30,137.48 L268.80,136.16 L269.30,134.83 L269.80,133.49 L270.30,132.13 L270.80,130.76 L271.30,129.37 L271.80,127.97 L272.30,126.56 L272.80,125.13 L273.30,123.70 L273.80,122.25 L274.30,120.79 L274.80,119.32 L275.30,117.85 L275.80,116.36 L276.30,114.86 L276.80,113.36 L277.30,111.84 L277.80,110.33 L278.30,108.80 L278.80,107.27 L279.30,105.74 L279.80,104.20 L280.30,102.66 L280.80,101.11 L281.30,99.57 L281.80,98.02 L282.30,96.48 L282.80,94.94 L283.30,93.40 L283.80,91.86 L284.30,90.33 L284.80,88.80 L285.30,87.28 L285.80,85.77 L286.30,84.26 L286.80,82.77 L287.30,81.28 L287.80,79.81 L288.30,78.35 L288.80,76.91 L289.30,75.48 L289.80,74.06 L290.30,72.66 L290.80,71.28 L291.30,69.92 L291.80,68.58 L292.30,67.26 L292.80,65.97 L293.30,64.69 L293.80,63.44 L294.30,62.21 L294.80,61.01 L295.30,59.84 L295.80,58.69 L296.30,57.57 L296.80,56.48 L297.30,55.41 L297.80,54.38 L298.30,53.38 L298.80,52.40 L299.30,51.46 L299.80,50.55 L300.30,49.67 L300.80,48.82 L301.30,48.00 L301.80,47.21 L302.30,46.46 L302.80,45.73 L303.30,45.04 L303.80,44.38 L304.30,43.75 L304.80,43.14 L305.30,42.57 L305.80,42.03 L306.30,41.52 L306.80,41.03 L307.30,40.58 L307.80,40.15 L308.30,39.74 L308.80,39.36 L309.30,39.01 L309.80,38.68 L310.30,38.37 L310.80,38.09 L311.30,37.82 L311.80,37.58 L312.30,37.35 L312.80,37.14 L313.30,36.95 L313.80,36.78 L314.30,36.62 L314.80,36.48 L315.30,36.35 L315.80,36.23 L316.30,36.12 L316.80,36.03 L317.30,35.94 L317.80,35.86 L318.30,35.80 L318.80,35.74 L319.30,35.68 L319.80,35.64 L320.30,35.60 L320.80,35.56 L321.30,35.53 L321.80,35.50 L322.30,35.48 L322.80,35.46 L323.30,35.44 L323.80,35.43 L324.30,35.41 L324.80,35.40 L325.30,35.39 L325.80,35.39 L326.30,35.38 L326.80,35.38 L327.30,35.37 L327.80,35.37 L328.30,35.37 L328.80,35.36 L329.30,35.36 L329.80,35.36 L330.30,35.36 L330.80,35.36 L331.30,35.36 L331.80,35.36" stroke="#ff00ff" fill="none" stroke-width="1" stroke-opacity="0.85" stroke-linejoin="round"/>
<path d="M28.40,215.20 V209.70 M32.80,1.60 V6.60 M45.62,215.20 V212.60 M49.74,1.60 V4.20 M55.69,215.20 V212.60 M59.64,1.60 V4.20 M62.84,215.20 V212.60 M66.67,1.60 V4.20 M68.38,215.20 V212.60 M72.12,1.60 V4.20 M72.91,215.20 V212.60 M76.58,1.60 V4.20 M76.74,215.20 V212.60 M80.35,1.60 V4.20 M80.06,215.20 V212.60 M83.61,1.60 V4.20 M82.98,215.20 V212.60 M86.49,1.60 V4.20 M85.60,215.20 V209.70 M89.06,1.60 V6.60 M102.82,215.20 V212.60 M106.00,1.60 V4.20 M112.89,215.20 V212.60 M115.90,1.60 V4.20 M120.04,215.20 V212.60 M122.93,1.60 V4.20 M125.58,215.20 V212.60 M128.38,1.60 V4.20 M130.11,215.20 V212.60 M132.84,1.60 V4.20 M133.94,215.20 V212.60 M136.61,1.60 V4.20 M137.26,215.20 V212.60 M139.87,1.60 V4.20 M140.18,215.20 V212.60 M142.75,1.60 V4.20 M142.80,215.20 V209.70 M145.32,1.60 V6.60 M160.02,215.20 V212.60 M162.26,1.60 V4.20 M170.09,215.20 V212.60 M172.16,1.60 V4.20 M177.24,215.20 V212.60 M179.19,1.60 V4.20 M182.78,215.20 V212.60 M184.64,1.60 V4.20 M187.31,215.20 V212.60 M189.10,1.60 V4.20 M191.14,215.20 V212.60 M192.87,1.60 V4.20 M194.46,215.20 V212.60 M196.13,1.60 V4.20 M197.38,215.20 V212.60 M199.01,1.60 V4.20 M200.00,215.20 V209.70 M201.58,1.60 V6.60 M217.22,215.20 V212.60 M218.52,1.60 V4.20 M227.29,215.20 V212.60 M228.42,1.60 V4.20 M234.44,215.20 V212.60 M235.45,1.60 V4.20 M239.98,215.20 V212.60 M240.90,1.60 V4.20 M244.51,215.20 V212.60 M245.36,1.60 V4.20 M248.34,215.20 V212.60 M249.13,1.60 V4.20 M251.66,215.20 V212.60 M252.39,1.60 V4.20 M254.58,215.20 V212.60 M255.27,1.60 V4.20 M257.20,215.20 V209.70 M257.84,1.60 V6.60 M274.42,215.20 V212.60 M274.78,1.60 V4.20 M284.49,215.20 V212.60 M284.68,1.60 V4.20 M291.64,215.20 V212.60 M291.71,1.60 V4.20 M297.18,215.20 V212.60 M297.16,1.60 V4.20 M301.71,215.20 V212.60 M301.62,1.60 V4.20 M305.54,215.20 V212.60 M305.39,1.60 V4.20 M308.86,215.20 V212.60 M308.65,1.60 V4.20 M311.78,215.20 V212.60 M311.53,1.60 V4.20 M314.40,215.20 V209.70 M314.10,1.60 V6.60 M30.23,1.60 V4.20 M28.30,208.50 H34.50 M332.00,208.50 H325.80 M28.30,165.30 H31.10 M332.00,165.30 H329.20 M28.30,122.10 H34.50 M332.00,122.10 H325.80 M28.30,78.90 H31.10 M332.00,78.90 H329.20 M28.30,35.70 H34.50 M332.00,35.70 H325.80" stroke="#222" stroke-width="1" fill="none"/>
<rect x="28.3" y="1.6" width="303.70" height="213.60" fill="none" stroke="#333" stroke-width="1.6"/>
<g font-family="Liberation Sans, Arial, sans-serif" font-weight="bold" fill="#000">
<g font-size="8.6" text-anchor="middle" stroke="#000" stroke-width="0.25">
<text x="29.40" y="224.6">1</text>
<text x="86.40" y="224.6">10</text>
<text x="143.55" y="224.6">100</text>
<text x="200.70" y="224.6">1000</text>
<text x="257.90" y="224.6">10000</text>
<text x="315.15" y="224.6">1e+05</text>
</g>
<g font-size="8.6" text-anchor="end" stroke="#000" stroke-width="0.25">
<text x="25.8" y="211.9">0</text>
<text x="25.8" y="125.1">0.5</text>
<text x="25.8" y="38.7">1</text>
</g>
<text x="180.5" y="236.2" font-size="10" text-anchor="middle">t (nsec)</text>
<text transform="translate(9.3,107.8) rotate(-90)" font-size="9.7" stroke="#000" stroke-width="0.35" text-anchor="middle">Normalized Reflectivity</text>
<g font-size="17" text-anchor="middle">
<text x="142.6" y="21">1</text>
<text x="202.1" y="21">2</text>
<text x="261.2" y="21">3</text>
<text x="315.5" y="21">4</text>
</g>
</g>
</svg>
</body></html>
